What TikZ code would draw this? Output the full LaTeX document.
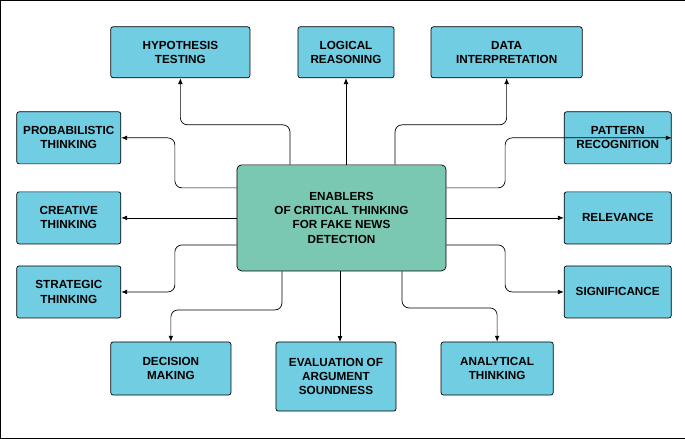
\documentclass[tikz,border=0pt]{standalone}
\usepackage{fontspec}
\setmainfont{Liberation Sans}
\usetikzlibrary{arrows.meta}
\definecolor{boxblue}{HTML}{70CDE2}
\definecolor{hubgreen}{HTML}{7BC8B2}
\begin{document}
\begin{tikzpicture}[
        x=0.03cm, y=-0.03cm,
        semithick,
        conn/.style ={-{Latex[length=5pt,width=4pt]}, rounded corners=6pt},
        topic/.style ={fill=boxblue, draw, rounded corners=2pt, align=center, inner sep=0pt,
            font=\fontsize{10}{12}\selectfont\bfseries},
        hub/.style ={fill=hubgreen, draw, rounded corners=4pt, align=center, inner sep=0pt,
            minimum width=209*0.03cm, minimum height=106*0.03cm,
            font=\fontsize{10}{12}\selectfont\bfseries},
    ]
    \draw[thin] (0.5,0.5) rectangle (684.5,438.5);
    \node[hub] (hub) at (341.5,218) {ENABLERS\\OF CRITICAL THINKING\\FOR FAKE NEWS\\DETECTION};

    \node[topic, minimum width=139*0.03cm, minimum height=51*0.03cm] (hypo) at (180.5,52.5) {HYPOTHESIS\\TESTING};
    \node[topic, minimum width=96*0.03cm, minimum height=51*0.03cm] (logic) at (346,52.5) {LOGICAL\\REASONING};
    \node[topic, minimum width=151*0.03cm, minimum height=51*0.03cm] (data) at (506.5,52.5) {DATA\\INTERPRETATION};
    \node[topic, minimum width=104*0.03cm, minimum height=52*0.03cm] (prob) at (69,138) {PROBABILISTIC\\THINKING};
    \node[topic, minimum width=107*0.03cm, minimum height=52*0.03cm] (patt) at (617.5,138) {PATTERN\\RECOGNITION};
    \node[topic, minimum width=104*0.03cm, minimum height=52*0.03cm] (crea) at (69,218) {CREATIVE\\THINKING};
    \node[topic, minimum width=107*0.03cm, minimum height=52*0.03cm] (rele) at (617.5,218) {RELEVANCE};
    \node[topic, minimum width=104*0.03cm, minimum height=52*0.03cm] (strat) at (69,292) {STRATEGIC\\THINKING};
    \node[topic, minimum width=107*0.03cm, minimum height=52*0.03cm] (sign) at (617.5,292) {SIGNIFICANCE};
    \node[topic, minimum width=120*0.03cm, minimum height=53*0.03cm] (deci) at (171,368.5) {DECISION\\MAKING};
    \node[topic, minimum width=120*0.03cm, minimum height=69*0.03cm] (eval) at (336,376.5) {EVALUATION OF\\ARGUMENT\\SOUNDNESS};
    \node[topic, minimum width=112*0.03cm, minimum height=53*0.03cm] (anal) at (497,368.5) {ANALYTICAL\\THINKING};

    % upper branches
    \draw[conn] (hub.north -| 290,0) |- (240,125) -| (hypo.south);
    \draw[conn] (hub.north -| logic.south) -- (logic.south);
    \draw[conn] (hub.north -| 395,0) |- (450,125) -| (data.south);
    % side branches
    \draw[conn] (hub.west |- 0,188) -| (175,160) |- (prob.east);
    \draw[conn] (hub.east |- 0,188) -| (505,160) |- (patt.east);
    \draw[conn] (hub.west |- crea.east) -- (crea.east);
    \draw[conn] (hub.east |- rele.west) -- (rele.west);
    \draw[conn] (hub.west |- 0,245) -| (175,270) |- (strat.east);
    \draw[conn] (hub.east |- 0,245) -| (505,270) |- (sign.west);
    % lower branches
    \draw[conn] (hub.south -| 282,0) |- (230,310) -| (deci.north);
    \draw[conn] (hub.south -| 340,0) -- (340,342);
    \draw[conn] (hub.south -| 402,0) |- (450,308) -| (anal.north);
\end{tikzpicture}
\end{document}
